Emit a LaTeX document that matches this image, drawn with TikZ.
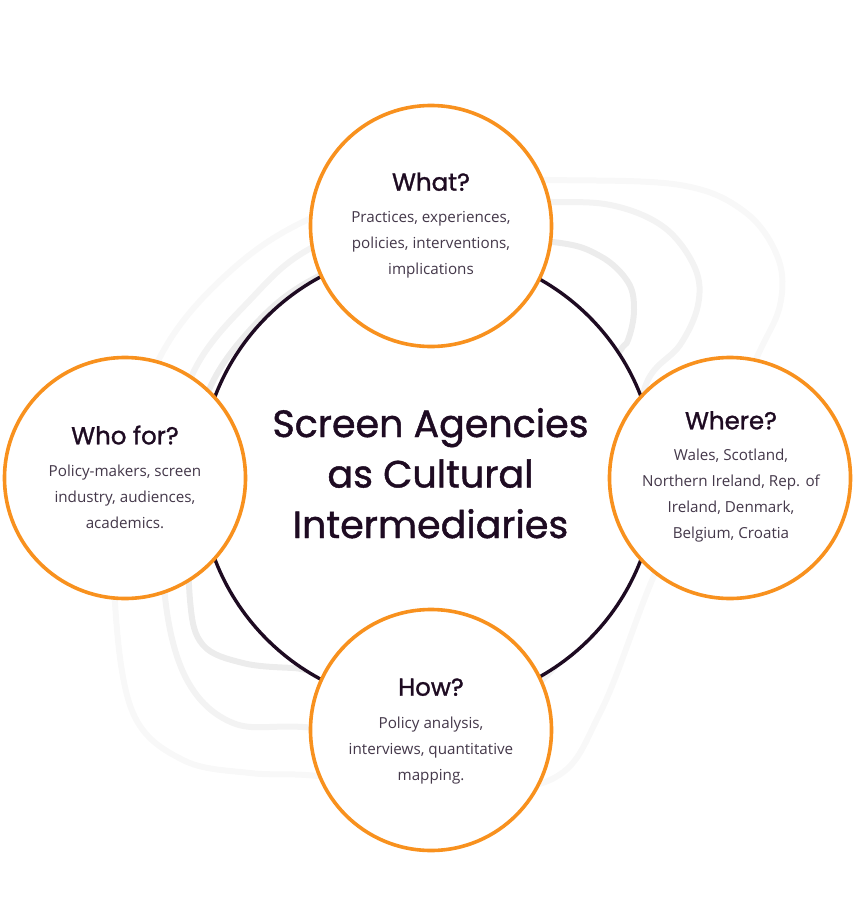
\documentclass[tikz,border=0pt]{standalone}
\usepackage{fontspec}
\setmainfont{Open Sans}
\newfontfamily\headfont{Poppins}[FakeBold=1.2]
\definecolor{orng}{HTML}{F8911E}
\definecolor{ink}{HTML}{1E0B22}
\definecolor{bodyink}{HTML}{44384A}
\definecolor{swA}{HTML}{ECECEC}
\definecolor{swB}{HTML}{F3F3F3}
\definecolor{swC}{HTML}{F8F8F8}
\tikzset{
  swirl/.style={line width=6pt, line join=round},
  topic/.style={circle, draw=orng, line width=3.6pt, fill=white, minimum size=241pt, inner sep=0pt},
  hub/.style={circle, draw=ink, line width=3.4pt, fill=white, minimum size=456pt, inner sep=0pt},
  head/.style={anchor=base, inner sep=0pt, text=ink, font=\headfont\fontsize{24.5}{30}\selectfont},
  title/.style={anchor=base, inner sep=0pt, text=ink, font=\headfont\fontsize{38}{44}\selectfont},
  body/.style={anchor=base, inner sep=0pt, text=bodyink, font=\fontsize{15.2}{18}\selectfont},
}
\begin{document}
\begin{tikzpicture}[x=1pt,y=-1pt]
\useasboundingbox (0,0) rectangle (854,919);
% background swirls
\draw[swirl, swC] plot[smooth cycle, tension=0.6] coordinates {
 (307,220) (430,180) (550,180) (680,185) (745,212) (778,258) (780,305) (757,357)
 (705,470) (653,578) (600,713) (550,780) (430,792) (318,776) (250,773) (183,760)
 (133,713) (115,603) (118,480) (160,357) (225,276)};
\draw[swirl, swB] plot[smooth cycle, tension=0.6] coordinates {
 (313,247) (430,205) (553,202) (615,206) (665,228) (695,268) (698,305) (680,345)
 (647,382) (630,460) (600,600) (520,700) (430,735) (303,727) (233,723) (187,680)
 (165,597) (165,480) (193,373) (250,300)};
\draw[swirl, swA] plot[smooth cycle, tension=0.6] coordinates {
 (430,236) (553,242) (600,256) (628,282) (634,310) (628,340) (615,360)
 (560,470) (450,620) (340,668) (293,668) (243,663) (203,645) (190,600)
 (190,500) (205,400) (250,330) (315,278)};
% hub
\node[hub] (hub) at (428,478) {};
% topic circles
\node[topic] (what)  at (431,226) {};
\node[topic] (who)   at (125,478) {};
\node[topic] (where) at (730,478) {};
\node[topic] (how)   at (431,730) {};
% title
\node[title] (t1) at (430.5,437) {Screen Agencies};
\node[title] (t2) at (430.5,487.5) {as Cultural};
\node[title] (t3) at (430.5,538) {Intermediaries};
% what
\node[head] (whatH) at (431,190.7) {What?};
\node[body] (what1) at (431,222.7) {Practices, experiences,};
\node[body] (what2) at (431,248.7) {policies, interventions,};
\node[body] (what3) at (431,274.7) {implications};
% who for
\node[head] (whoH) at (125,444.3) {Who for?};
\node[body] (who1) at (125,476) {Policy-makers, screen};
\node[body] (who2) at (125,502) {industry, audiences,};
\node[body] (who3) at (125,528) {academics.};
% where
\node[head] (whereH) at (731,429.3) {Where?};
\node[body] (where1) at (731,460.7) {Wales, Scotland,};
\node[body] (where2) at (731,486.7) {Northern Ireland, Rep. of};
\node[body] (where3) at (731,512.5) {Ireland, Denmark,};
\node[body] (where4) at (731,538.3) {Belgium, Croatia};
% how
\node[head] (howH) at (431,695.7) {How?};
\node[body] (how1) at (431,728.3) {Policy analysis,};
\node[body] (how2) at (431,754.3) {interviews, quantitative};
\node[body] (how3) at (431,780.3) {mapping.};
\end{tikzpicture}
\end{document}
